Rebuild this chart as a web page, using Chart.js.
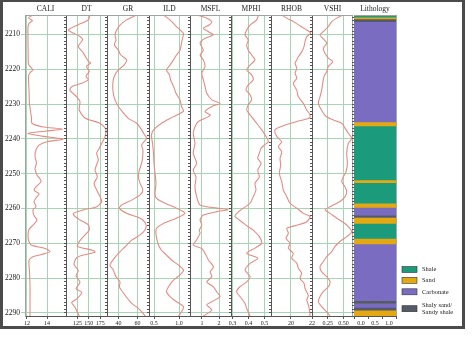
<!DOCTYPE html>
<html>
<head>
<meta charset="utf-8">
<script src="https://cdn.jsdelivr.net/npm/chart.js@4.4.1/dist/chart.umd.min.js"></script>
<style>
  body { margin: 0; background: #fff; }
  #wrap { position: absolute; left: 0; top: 0; width: 474px; height: 338px; overflow: hidden; }
  #frame { position: absolute; left: 0; top: 0; width: 459px; height: 324px; border: solid #4b4b4b; border-width: 2px 3px 3px 3px; }
  canvas { position: absolute; top: 0; }
</style>
</head>
<body>
<div id="wrap"><div id="frame"></div></div>
<script>
// depth interval shown and labelled depths (m)
const TOP_DEPTH = 2204.4;
const BASE_DEPTH = 2290.9;
const DEPTH_LABELS = [2210, 2220, 2230, 2240, 2250, 2260, 2270, 2280, 2290];

// log tracks: name, scale limits, tick values
const TRACK_NAMES = ['CALI', 'DT', 'GR', 'ILD', 'MSFL', 'MPHI', 'RHOB', 'VSHI'];
const TRACK_MIN = [11.8, 100, 28, 0.4, 0.3, 0.29, 18.1, 0];
const TRACK_MAX = [15.9, 190, 72, 1.22, 2.7, 0.54, 22, 0.65];
const TRACK_TICKS = [[12, 14], [125, 150, 175], [40, 60], [0.5, 1.0], [1, 2], [0.3, 0.4, 0.5], [20, 22], [0.25, 0.5]];
const TICK_DECIMALS = [0, 0, 0, 1, 0, 1, 0, 2];

// [depth, value] samples per log
const CALI_LOG = [[2204.4,12.6],[2205.2,12.15],[2206.0,12.55],[2206.8,12.2],[2208,12.1],[2212,12.1],[2216,12.12],[2218.5,12.15],[2219.5,12.4],[2220.2,12.6],[2221,12.3],[2222,12.15],[2226,12.2],[2230,12.25],[2232,12.35],[2234,12.45],[2235.5,12.5],[2236.5,13.5],[2237.2,15.5],[2237.8,13.8],[2238.4,12.1],[2239.2,13.5],[2240.1,15.6],[2240.8,14.0],[2241.8,13.2],[2243.2,12.9],[2245,12.8],[2247,12.95],[2248.5,12.8],[2250.4,13.0],[2251.5,13.3],[2252.3,13.4],[2253.5,13.0],[2254.7,12.7],[2255.8,13.2],[2257,12.9],[2258,12.7],[2259.5,12.9],[2260.4,12.6],[2262,12.7],[2263.3,13.0],[2264.5,12.7],[2266,12.2],[2268,12.1],[2269.5,12.2],[2270.5,12.4],[2271.5,13.8],[2272.4,14.3],[2273.2,13.5],[2274,12.5],[2275,12.2],[2278,12.25],[2282,12.3],[2286,12.3],[2290.9,12.3]];
const DT_LOG = [[2204.4,152.7],[2205.8,149],[2207.2,127],[2208.7,105],[2209.6,116],[2210.6,130.7],[2211.5,136.6],[2213.4,127],[2215.3,138],[2217.7,149],[2218.2,154],[2219.2,145],[2220.6,151],[2222,144],[2223,149],[2224,134.4],[2225,112.5],[2226,108.8],[2227.9,123.5],[2229.3,130.7],[2231.7,129],[2234,141.7],[2235.5,174.6],[2236.5,183.4],[2237.4,187.8],[2239.4,185.6],[2241.3,178.4],[2242.7,173.1],[2244.1,167.3],[2246,171],[2247.4,167.3],[2249,163.7],[2250.9,168.8],[2252.8,161.5],[2254.7,167.3],[2256.6,174.6],[2258,178.4],[2259.5,167.3],[2260.4,138],[2261.4,116],[2262.3,119.8],[2263.3,130.7],[2264.7,149],[2266.2,151],[2267.1,145.4],[2268.6,134.5],[2270,127],[2270.9,124.9],[2272.1,160],[2272.6,163.7],[2273.5,134.5],[2274.1,123.5],[2276,117.6],[2277.9,127],[2279.3,122],[2281.2,130.7],[2283.1,122],[2284.1,134.5],[2286,123.5],[2287,112.5],[2288.4,119.8],[2289.8,124.9],[2290.9,129]];
const GR_LOG = [[2204.4,59.1],[2205.8,48.6],[2207.3,41.6],[2208.7,38.2],[2210.1,36.4],[2211.6,37.4],[2213,35.7],[2214.5,39.9],[2215.9,42.4],[2217.3,48.6],[2218.8,45.8],[2220.2,39.9],[2221.6,36.4],[2223,34.6],[2225,34],[2226.9,34.6],[2228.8,36.4],[2230.7,39.9],[2232.5,45.1],[2234.1,50.3],[2235.5,59.1],[2237.4,64.3],[2238.6,66.8],[2239.8,69.6],[2240.8,66.8],[2241.8,64.3],[2243.2,65.6],[2245,65.4],[2247,64.3],[2249,61.9],[2250.9,60.8],[2252.8,62.6],[2254.7,65.6],[2256.1,62.6],[2257.6,53.9],[2259,43.4],[2259.9,40.9],[2261.4,48.6],[2262.4,59.1],[2263.3,65.6],[2264.7,68.9],[2266.2,67.8],[2267.6,62.6],[2269.1,53.9],[2271,46.9],[2272.9,39.9],[2274.9,34],[2276.3,31.1],[2277.7,34.6],[2279.6,37.4],[2281.1,41.6],[2282.5,41],[2284,44.4],[2285.3,47.9],[2287.3,53.9],[2288.7,60.8],[2290.1,65.6],[2290.9,68]];
const ILD_LOG = [[2204.4,0.69],[2205.8,0.82],[2207.3,0.92],[2208.7,1.02],[2209.7,1.09],[2211.1,1.07],[2212.5,1.05],[2214.5,1.02],[2215.9,0.95],[2217.3,0.89],[2218.8,0.82],[2220.2,0.75],[2221.6,0.81],[2223,0.83],[2224.9,0.89],[2226.9,0.94],[2228.8,1.02],[2230.7,1.05],[2232,1.09],[2233.6,0.89],[2235.5,0.65],[2237.4,0.49],[2238.9,0.45],[2241.3,0.47],[2244.1,0.49],[2247,0.5],[2249.9,0.52],[2252.8,0.54],[2255.7,0.52],[2257.1,0.55],[2258.5,0.72],[2259.9,0.95],[2261.4,1.12],[2262.8,0.95],[2264.3,0.69],[2265.7,0.55],[2267.5,0.54],[2270.5,0.59],[2272,0.65],[2273.4,0.75],[2274.8,0.85],[2276.3,0.99],[2277.7,1.09],[2279.1,1.02],[2280.6,0.89],[2282.5,0.79],[2283.9,0.75],[2285.3,0.82],[2286.8,0.95],[2288.2,1.09],[2289.7,1.05],[2290.9,0.99]];
const MSFL_LOG = [[2204.4,0.69],[2205.3,1.28],[2206.3,1.58],[2207.2,1.44],[2208.2,1.08],[2209.2,1.38],[2210.1,1.67],[2211.1,1.18],[2212.5,0.89],[2214.5,1.08],[2215.9,0.89],[2217.3,1.08],[2219.2,1.18],[2221.1,0.99],[2223,1.08],[2224.9,1.18],[2226.9,1.28],[2228.8,1.58],[2229.8,2.06],[2230.7,1.58],[2232.2,1.18],[2233.1,1.48],[2233.6,1.38],[2235,0.79],[2236.5,0.59],[2238.4,0.49],[2241.3,0.59],[2244.1,0.49],[2247,0.69],[2249,0.49],[2250.9,0.65],[2253.8,0.59],[2256.6,0.69],[2259,0.89],[2259.9,1.87],[2260.4,2.55],[2260.9,1.87],[2261.9,1.08],[2263.3,0.89],[2264.7,0.99],[2266.2,0.85],[2267.1,0.89],[2269,0.69],[2270.5,0.49],[2271.5,0.99],[2272.9,1.18],[2274.8,1.38],[2276.8,1.67],[2278.2,1.48],[2279.6,1.58],[2281.1,1.28],[2282.5,1.67],[2284,1.87],[2285.3,2.06],[2286.8,1.58],[2287.7,1.28],[2289.2,1.58],[2290.9,1.08]];
const MPHI_LOG = [[2204.4,0.461],[2205.8,0.451],[2207.3,0.409],[2208.7,0.388],[2210.1,0.378],[2211.6,0.398],[2213,0.388],[2214.5,0.398],[2215.9,0.419],[2217.3,0.44],[2218.8,0.409],[2220.2,0.388],[2221.6,0.419],[2223,0.429],[2224.5,0.398],[2225.9,0.384],[2227.3,0.409],[2228.8,0.419],[2230.2,0.398],[2231.7,0.388],[2233.1,0.409],[2235.5,0.45],[2237.4,0.482],[2239.3,0.509],[2240.8,0.523],[2241.8,0.498],[2242.7,0.478],[2244.1,0.467],[2245.6,0.457],[2247,0.478],[2249,0.457],[2250.9,0.467],[2252.8,0.44],[2254.7,0.446],[2256.6,0.429],[2258.5,0.409],[2259.9,0.367],[2261.4,0.326],[2262.3,0.315],[2263.8,0.357],[2265.2,0.395],[2266.2,0.429],[2268.1,0.467],[2270,0.482],[2271.4,0.44],[2272.9,0.388],[2274.3,0.457],[2275.8,0.409],[2277.7,0.378],[2279.6,0.409],[2281.1,0.388],[2282.5,0.346],[2283.9,0.325],[2285.3,0.346],[2287.3,0.378],[2288.7,0.388],[2290.9,0.409]];
const RHOB_LOG = [[2204.4,19.12],[2205.3,19.6],[2206.3,20.22],[2207.5,20.86],[2208.7,21.5],[2209.6,21.88],[2210.6,21.5],[2212,21.34],[2213.5,21.24],[2215,21.02],[2216.4,20.7],[2217.3,20.55],[2218.3,20.39],[2219.7,20.55],[2221.1,20.39],[2222.6,20.55],[2224,20.22],[2226,20.55],[2227.9,20.7],[2229.8,21.18],[2231.7,21.5],[2233,21.81],[2234,21.76],[2235,20.55],[2236.2,19.27],[2237.4,18.48],[2239.3,18.64],[2240.8,19.12],[2242.2,18.8],[2243.7,19.12],[2245.6,18.96],[2247.6,19.02],[2249.9,18.89],[2252.3,19.12],[2254.7,19.27],[2256.6,19.6],[2258.5,19.91],[2259.9,20.55],[2261.4,21.18],[2262.3,21.81],[2263.8,21.5],[2264.7,20.7],[2265.7,19.6],[2267.1,19.75],[2268.6,19.53],[2270,19.91],[2271.4,19.75],[2272.9,20.22],[2274.3,20.07],[2275.7,20.55],[2277.2,20.7],[2278.6,21.02],[2280.1,20.86],[2281.5,21.24],[2283,21.34],[2284,21.5],[2285,21.65],[2286.3,21.5],[2287.7,21.65],[2289.2,21.76],[2290.9,21.81]];
const VSHI_LOG = [[2204.4,0.497],[2205.3,0.392],[2206.3,0.313],[2207.7,0.259],[2209.2,0.179],[2210.1,0.127],[2211.1,0.17],[2212.5,0.233],[2214,0.179],[2215.4,0.206],[2216.8,0.259],[2217.8,0.328],[2219.2,0.259],[2220.7,0.233],[2222.1,0.19],[2224,0.17],[2226,0.153],[2227.9,0.127],[2229.8,0.1],[2231.7,0.15],[2233.5,0.22],[2234.5,0.33],[2235.5,0.471],[2236.9,0.524],[2238.4,0.576],[2239.8,0.63],[2241.3,0.576],[2244.1,0.55],[2247,0.561],[2249.4,0.54],[2250.9,0.497],[2252.3,0.471],[2253.8,0.524],[2255.2,0.55],[2256.6,0.524],[2258,0.444],[2259.5,0.286],[2260.4,0.206],[2261.4,0.286],[2262.8,0.392],[2264.3,0.52],[2265.5,0.59],[2266.7,0.63],[2268.1,0.55],[2269.5,0.444],[2270.9,0.365],[2272.4,0.313],[2273.8,0.233],[2275.3,0.179],[2276.7,0.127],[2278.2,0.153],[2279.6,0.233],[2281,0.286],[2282.5,0.259],[2283.9,0.179],[2285.3,0.127],[2286.8,0.1],[2288.2,0.153],[2289.7,0.233],[2290.9,0.286]];
const LOGS = [CALI_LOG, DT_LOG, GR_LOG, ILD_LOG, MSFL_LOG, MPHI_LOG, RHOB_LOG, VSHI_LOG];

// lithology column: classes and intervals
const LITH_NAMES = ['Shale', 'Sand', 'Carbonate', 'Shaly sand/\nSandy shale'];
const LITH_TOP  = [2204.4, 2205.0, 2205.5, 2206.3, 2235.1, 2236.3, 2251.8, 2252.6, 2258.5, 2259.7, 2261.9, 2262.6, 2264.3, 2268.6, 2270.2, 2286.5, 2287.3, 2288.4, 2289.2];
const LITH_BASE = [2205.0, 2205.5, 2206.3, 2235.1, 2236.3, 2251.8, 2252.6, 2258.5, 2259.7, 2261.9, 2262.6, 2264.3, 2268.6, 2270.2, 2286.5, 2287.3, 2288.4, 2289.2, 2290.9];
const LITH_CLASS = [0, 1, 3, 2, 1, 0, 1, 0, 1, 2, 3, 1, 0, 1, 2, 3, 2, 3, 1];
const LITH_TICKS = [0, 0.5, 1];

// styling
const SERIF = "'Liberation Serif', 'DejaVu Serif', serif";
const CURVE = '#e38c84';
const GRID = '#a6d5b2';
const EDGE = '#555';
const LITH_COLORS = ['#1b9b7b', '#e3a812', '#7a6cc1', '#555a68'];

// track placement on the page (left edge, width of plot area)
const TRACK_X = [25, 66, 107, 149, 190, 231, 271, 312, 354];
const TRACK_W = [41, 41, 42, 41, 41, 40, 41, 41, 42];
const PLOT_TOP = 15;
const PLOT_BOTTOM = 316;
const AXIS_H = 14;

const DEPTH_MINOR = [];
for (let d = 2205; d <= 2290; d++) DEPTH_MINOR.push(d);

function place(left, width) {
  const c = document.createElement('canvas');
  c.width = width;
  c.height = PLOT_BOTTOM + AXIS_H;
  c.style.left = left + 'px';
  document.getElementById('wrap').appendChild(c);
  return c.getContext('2d');
}

// header text plus a light frame line on top (and right, if asked)
const trackDecor = {
  id: 'trackDecor',
  afterDraw(chart, args, opts) {
    const { ctx, chartArea: a } = chart;
    ctx.save();
    ctx.strokeStyle = '#9aa59f';
    ctx.lineWidth = 1;
    ctx.beginPath();
    ctx.moveTo(a.left, a.top + 0.5);
    ctx.lineTo(a.right, a.top + 0.5);
    if (opts.rightEdge) {
      ctx.moveTo(a.right - 0.5, a.top);
      ctx.lineTo(a.right - 0.5, a.bottom);
    }
    ctx.stroke();
    ctx.fillStyle = '#222';
    ctx.font = '7.5px ' + SERIF;
    ctx.textAlign = 'center';
    ctx.textBaseline = 'middle';
    ctx.fillText(opts.title, (a.left + a.right) / 2, 9);
    ctx.restore();
  }
};

// lithology key drawn to the right of the column
const lithLegend = {
  id: 'lithLegend',
  afterDraw(chart) {
    const { ctx, chartArea: a } = chart;
    const x = a.right + 6;
    const rowY = [a.bottom - 46.5, a.bottom - 35.7, a.bottom - 24.2, a.bottom - 7.3];
    ctx.save();
    ctx.font = '6.5px ' + SERIF;
    ctx.textBaseline = 'middle';
    ctx.textAlign = 'left';
    LITH_NAMES.forEach((name, k) => {
      ctx.fillStyle = LITH_COLORS[k];
      ctx.fillRect(x, rowY[k] - 3, 15, 6);
      ctx.strokeStyle = '#333';
      ctx.lineWidth = 0.6;
      ctx.strokeRect(x, rowY[k] - 3, 15, 6);
      ctx.fillStyle = '#222';
      const lines = name.split('\n');
      lines.forEach((ln, j) => {
        ctx.fillText(ln, x + 20, rowY[k] + (j - (lines.length - 1) / 2) * 7);
      });
    });
    ctx.restore();
  }
};

function depthAxis(first, gridColor) {
  return {
    type: 'linear',
    reverse: true,
    min: TOP_DEPTH,
    max: BASE_DEPTH,
    afterBuildTicks: ax => { ax.ticks = (first ? DEPTH_LABELS : DEPTH_MINOR).map(v => ({ value: v })); },
    afterFit: s => { s.width = first ? 25 : 3; },
    grid: {
      color: c => (c.tick && c.tick.value % 10 === 0) ? gridColor : 'rgba(0,0,0,0)',
      tickColor: first ? GRID : '#555',
      tickLength: first ? 4 : 2
    },
    border: { color: first ? '#9aa59f' : EDGE },
    ticks: {
      display: first, padding: 1,
      font: { family: SERIF, size: 7.5 }, color: '#222',
      callback: v => String(v)
    }
  };
}

function valueAxis(min, max, ticks, dec, gridColor) {
  return {
    type: 'linear',
    position: 'bottom',
    min: min,
    max: max,
    afterBuildTicks: ax => { ax.ticks = ticks.map(v => ({ value: v })); },
    afterFit: s => { s.height = AXIS_H; },
    grid: { color: gridColor, tickColor: '#555', tickLength: 3 },
    border: { color: EDGE },
    ticks: {
      autoSkip: false, maxRotation: 0, padding: 1,
      font: { family: SERIF, size: 6 }, color: '#222',
      callback: v => Number(v).toFixed(dec)
    }
  };
}

// one scatter chart per log curve
TRACK_NAMES.forEach((name, i) => {
  const first = i === 0;
  const yw = first ? 25 : 3;
  const padL = first ? 0 : 10;
  const padR = 12;
  const ctx = place(TRACK_X[i] - yw - padL, yw + padL + TRACK_W[i] + padR);
  new Chart(ctx, {
    type: 'scatter',
    data: {
      datasets: [{
        label: name,
        data: LOGS[i].map(p => ({ x: p[1], y: p[0] })),
        showLine: true,
        borderColor: CURVE,
        borderWidth: 1.1,
        pointRadius: 0,
        tension: 0.25
      }]
    },
    options: {
      responsive: false,
      animation: false,
      layout: { padding: { top: PLOT_TOP, left: padL, right: padR, bottom: 0 } },
      plugins: {
        legend: { display: false },
        tooltip: { enabled: false },
        trackDecor: { title: name, rightEdge: i === TRACK_NAMES.length - 1 }
      },
      scales: {
        x: valueAxis(TRACK_MIN[i], TRACK_MAX[i], TRACK_TICKS[i], TICK_DECIMALS[i], GRID),
        y: depthAxis(first, GRID)
      }
    },
    plugins: [trackDecor]
  });
});

// lithology column as floating bars spanning each interval
(function () {
  const k = TRACK_NAMES.length;
  const padL = 10, yw = 3, padR = 70;
  const ctx = place(TRACK_X[k] - yw - padL, yw + padL + TRACK_W[k] + padR);
  const lines = 'rgba(45,70,60,0.45)';
  const depthScale = depthAxis(false, lines);
  depthScale.z = 1;
  const lithScale = valueAxis(0, 1, LITH_TICKS, 1, lines);
  lithScale.z = 1;
  new Chart(ctx, {
    type: 'bar',
    data: {
      labels: [''],
      datasets: LITH_TOP.map((top, j) => ({
        label: LITH_NAMES[LITH_CLASS[j]],
        data: [[top, LITH_BASE[j]]],
        backgroundColor: LITH_COLORS[LITH_CLASS[j]],
        borderWidth: 0,
        grouped: false,
        barPercentage: 1,
        categoryPercentage: 1
      }))
    },
    options: {
      responsive: false,
      animation: false,
      layout: { padding: { top: PLOT_TOP, left: padL, right: padR, bottom: 0 } },
      plugins: {
        legend: { display: false },
        tooltip: { enabled: false },
        trackDecor: { title: 'Lithology' }
      },
      scales: {
        x: { display: false },
        x2: lithScale,
        y: depthScale
      }
    },
    plugins: [trackDecor, lithLegend]
  });
})();
</script>
</body>
</html>
